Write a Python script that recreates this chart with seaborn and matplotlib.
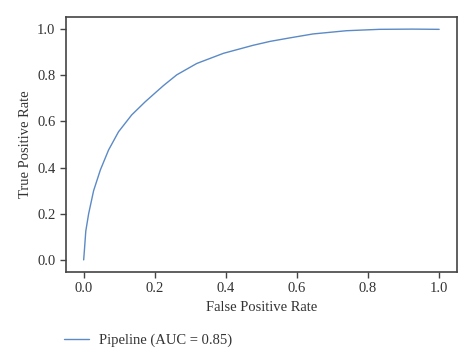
import matplotlib
matplotlib.use("Agg")
import matplotlib.pyplot as plt
import seaborn as sns
import pandas as pd

fpr = [0.0, 0.002, 0.006, 0.014, 0.028, 0.047, 0.07, 0.098, 0.135, 0.173, 0.20,
       0.225, 0.262, 0.318, 0.393, 0.477, 0.525, 0.58, 0.645, 0.739, 0.832, 0.925, 1.0]
tpr = [0.0, 0.04, 0.125, 0.20, 0.30, 0.39, 0.476, 0.555, 0.628, 0.685, 0.722,
       0.756, 0.802, 0.851, 0.895, 0.93, 0.947, 0.962, 0.979, 0.993, 0.999, 1.0, 0.999]
label = "Pipeline (AUC = 0.85)"
xticks = [0.0, 0.2, 0.4, 0.6, 0.8, 1.0]
yticks = [0.0, 0.2, 0.4, 0.6, 0.8, 1.0]

sns.set_style("ticks")
plt.rcParams['font.family'] = ['Liberation Serif', 'DejaVu Serif']
plt.rcParams['font.size'] = 10.5

df = pd.DataFrame({"fpr": fpr, "tpr": tpr, "model": label})

fig = plt.figure(figsize=(4.74, 3.64), dpi=100)
ax = fig.add_axes([0.139, 0.253, 0.825, 0.700])
sns.lineplot(data=df, x="fpr", y="tpr", hue="model", palette=["#5b8ac6"],
             linewidth=1.0, sort=False, estimator=None, ax=ax)
ax.set_xlim(-0.05, 1.05)
ax.set_ylim(-0.052, 1.052)
ax.set_xticks(xticks)
ax.set_yticks(yticks)
ax.set_xticklabels([f"{v:.1f}" for v in xticks])
ax.set_yticklabels([f"{v:.1f}" for v in yticks])
ax.set_xlabel("False Positive Rate", color="#333333")
ax.set_ylabel("True Positive Rate", color="#333333")
for s in ax.spines.values():
    s.set_color("#444444")
    s.set_linewidth(1.2)
    s.set_visible(True)
ax.tick_params(colors="#444444", labelcolor="#333333", length=4, width=1.0)
leg = ax.legend(loc="upper left", bbox_to_anchor=(-0.038, -0.192), frameon=False,
                handlelength=1.7, handletextpad=0.7, fontsize=10.5)
for t in leg.get_texts():
    t.set_color("#333333")
fig.savefig("out.png", dpi=100)
